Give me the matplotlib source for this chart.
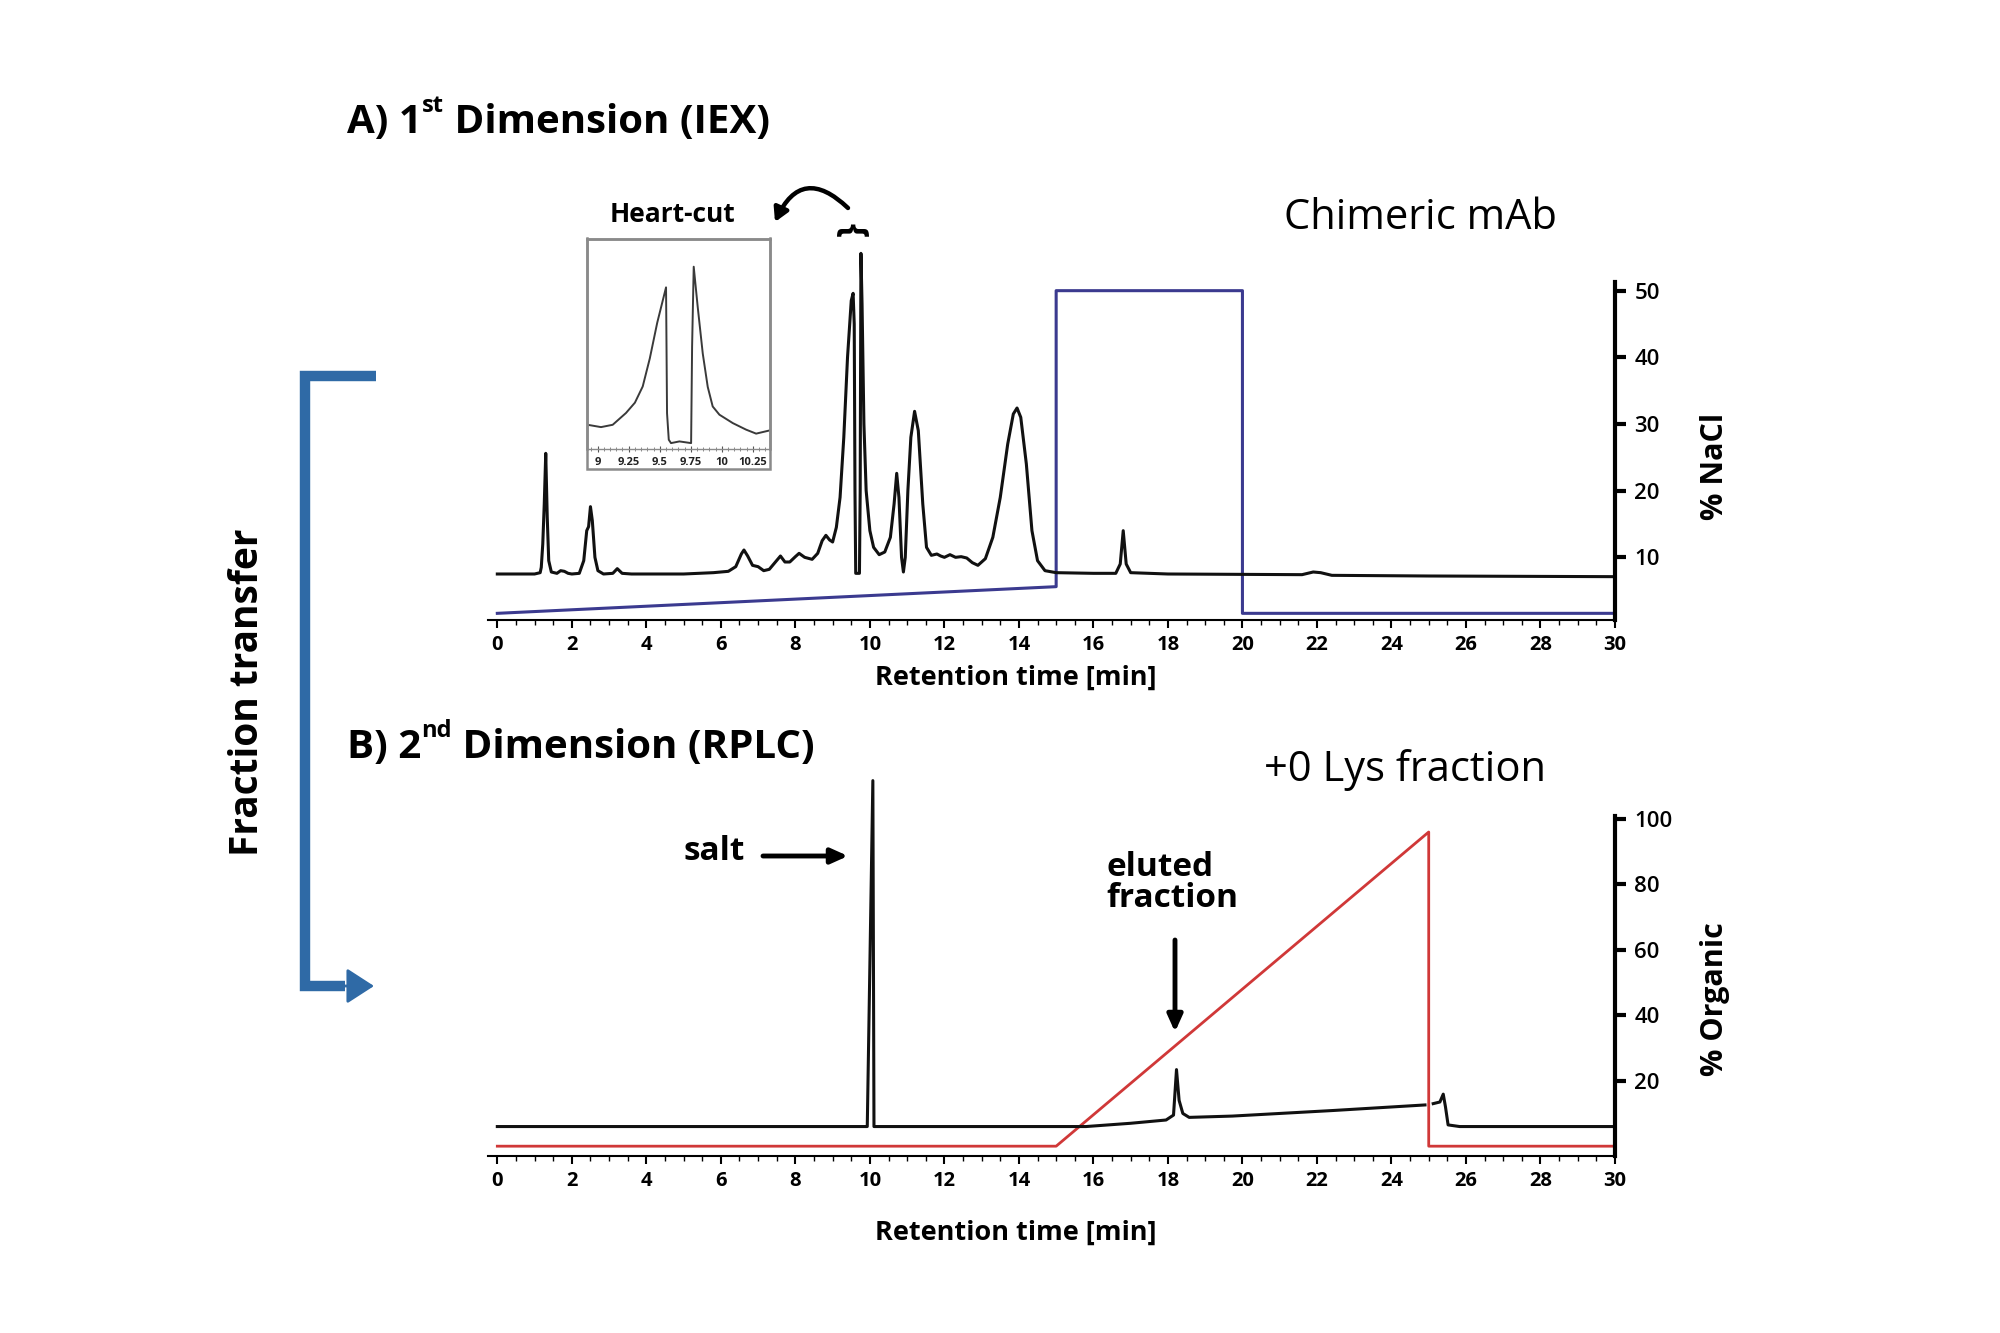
import matplotlib.pyplot as plt
from matplotlib.patches import Rectangle
from matplotlib.ticker import MultipleLocator

# ── Data ─────────────────────────────────────────────────────
# A) 1st dimension (IEX) chromatogram, retention time [min] vs. signal (in %NaCl axis units)
top_time = [0.0, 1.0, 1.15, 1.18, 1.22, 1.26, 1.30, 1.34, 1.38, 1.45, 1.6, 1.7, 1.8, 1.9,
            2.0, 2.2, 2.32, 2.40, 2.45, 2.50, 2.55, 2.62, 2.7, 2.85, 3.1, 3.22, 3.35, 3.6,
            5.0, 5.8, 6.2, 6.4, 6.55, 6.62, 6.72, 6.85, 7.0, 7.15, 7.3, 7.45, 7.6, 7.72,
            7.85, 8.0, 8.1, 8.25, 8.45, 8.6, 8.72, 8.82, 8.92, 9.0, 9.1, 9.2, 9.3, 9.4,
            9.5, 9.55, 9.58, 9.6, 9.62, 9.72, 9.74, 9.76, 9.79, 9.84, 9.9, 10.0, 10.1,
            10.25, 10.4, 10.55, 10.65, 10.72, 10.78, 10.85, 10.9, 10.95, 11.02, 11.1,
            11.2, 11.3, 11.42, 11.52, 11.65, 11.8, 11.9, 12.0, 12.15, 12.3, 12.45, 12.6,
            12.75, 12.9, 13.1, 13.3, 13.5, 13.7, 13.85, 13.95, 14.05, 14.2, 14.35, 14.5,
            14.7, 15.0, 16.0, 16.6, 16.72, 16.8, 16.88, 17.0, 18.0, 21.6, 21.9, 22.1,
            22.4, 25.0, 30.0]
top_signal = [7.5, 7.5, 7.7, 8.5, 12.0, 18.0, 25.6, 16.0, 9.5, 7.8, 7.6, 8.0, 7.9, 7.6,
              7.5, 7.6, 9.5, 14.0, 14.6, 17.6, 15.5, 10.0, 8.0, 7.5, 7.6, 8.3, 7.6, 7.5,
              7.5, 7.7, 7.9, 8.6, 10.5, 11.1, 10.2, 8.8, 8.6, 8.0, 8.2, 9.2, 10.2, 9.3,
              9.3, 10.1, 10.6, 10.0, 9.7, 10.6, 12.5, 13.3, 12.6, 12.3, 14.5, 19.0, 28.0, 40.0,
              48.5, 49.6, 45.0, 20.0, 7.6, 7.6, 20.0, 55.6, 48.0, 30.0, 20.0, 14.0, 11.5,
              10.4, 10.8, 13.0, 18.0, 22.6, 19.0, 10.0, 7.8, 10.0, 20.0, 28.0,
              31.9, 29.0, 18.0, 11.5, 10.3, 10.5, 10.2, 10.0, 10.4, 10.0, 10.1, 9.9,
              9.2, 8.8, 9.8, 13.0, 19.0, 27.0, 31.5, 32.4, 31.0, 24.0, 14.0, 9.5,
              8.0, 7.7, 7.6, 7.6, 9.0, 14.0, 9.0, 7.7, 7.5, 7.4, 7.8, 7.7,
              7.3, 7.2, 7.1]
# salt step gradient (%NaCl)
nacl_time = [0, 15, 15, 20, 20, 30]
nacl_pct = [1.6, 5.6, 50, 50, 1.6, 1.6]
nacl_ticks = [10, 20, 30, 40, 50]

# heart-cut inset (9-10.4 min)
inset_time = [8.919, 9.027, 9.121, 9.228, 9.30, 9.363, 9.42, 9.48, 9.551, 9.559, 9.573,
              9.591, 9.659, 9.753, 9.761, 9.774, 9.806, 9.847, 9.887, 9.927, 9.981,
              10.089, 10.196, 10.277, 10.384]
inset_signal = [11.5, 10.4, 11.5, 17.1, 22.0, 29.7, 43.0, 60.0, 76.8, 17.0, 4.4,
                2.8, 3.6, 2.8, 48.7, 86.6, 67.6, 45.3, 29.5, 20.2, 16.3,
                12.3, 9.2, 7.3, 8.8]
inset_ticks = [9, 9.25, 9.5, 9.75, 10, 10.25]
inset_labels = ['9', '9.25', '9.5', '9.75', '10', '10.25']

# B) 2nd dimension (RPLC) chromatogram
bot_time = [0.0, 9.93, 10.08, 10.11, 15.8, 17.0, 17.95, 18.15, 18.23, 18.3, 18.4, 18.57,
            19.73, 22.43, 24.9, 25.0, 25.12, 25.3, 25.39, 25.45, 25.52, 25.83, 30.0]
bot_signal = [6.0, 6.0, 111.7, 6.0, 6.0, 7.0, 8.0, 9.5, 23.4, 14.0, 10.0, 8.8,
              9.2, 10.9, 12.6, None, 13.0, 13.5, 15.9, 12.0, 6.5, 6.0, 6.0]
# organic gradient (%)
org_time = [0, 15, 25, 25, 30]
org_pct = [0, 0, 96, 0, 0]
org_ticks = [20, 40, 60, 80, 100]

x_ticks = list(range(0, 31, 2))

plt.rcParams['font.family'] = ['Open Sans', 'DejaVu Sans']
W, H = 2000, 1333


def fx(px):
    return px / W


def fy(py):
    return 1 - py / H


def style_axes(ax, yticks, spine_top):
    ax.set_xlim(-0.25, 30)
    ax.spines['left'].set_visible(False)
    ax.spines['top'].set_visible(False)
    ax.spines['bottom'].set_linewidth(1.5)
    ax.spines['right'].set_linewidth(3)
    ax.spines['right'].set_bounds(ax.get_ylim()[0], spine_top)
    ax.yaxis.tick_right()
    ax.set_yticks(yticks)
    ax.set_xticks(x_ticks)
    ax.xaxis.set_minor_locator(MultipleLocator(0.5))
    ax.tick_params(axis='x', which='major', length=6, width=1.5, pad=5)
    ax.tick_params(axis='x', which='minor', length=3.5, width=1)
    ax.tick_params(axis='y', length=8, width=3, pad=6)
    for lbl in ax.get_xticklabels():
        lbl.set_fontweight('bold')
        lbl.set_fontsize(14.5)
    for lbl in ax.get_yticklabels():
        lbl.set_fontweight('semibold')
        lbl.set_fontsize(16)
    ax.patch.set_alpha(0)


fig = plt.figure(figsize=(20, 13.33), dpi=100)

# ── Panel A ──────────────────────────────────────────────────
ax1 = fig.add_axes([fx(488), fy(620), (1615 - 488) / W, (620 - 244) / H])
ax1.set_ylim(0.6, 57)
ax1.plot(nacl_time, nacl_pct, color='#3b3a8f', lw=2.2)
ax1.plot(top_time, top_signal, color='#111111', lw=2.2)
style_axes(ax1, nacl_ticks, 51.3)

# ── Panel B ──────────────────────────────────────────────────
ax2 = fig.add_axes([fx(488), fy(1156), (1615 - 488) / W, (1156 - 760) / H])
ax2.set_ylim(-3, 118)
ax2.plot(org_time, org_pct, color='#d03838', lw=2.0)
ax2.plot(bot_time, [float('nan') if v is None else v for v in bot_signal],
         color='#111111', lw=2.2)
style_axes(ax2, org_ticks, 101)

# axis titles
fig.text(fx(1016), fy(678), 'Retention time [min]', ha='center', va='center',
         fontsize=19.5, fontweight='bold')
fig.text(fx(1016), fy(1233), 'Retention time [min]', ha='center', va='center',
         fontsize=19.5, fontweight='bold')
fig.text(fx(1715), fy(466), '% NaCl', rotation=90, ha='center', va='center',
         fontsize=22, fontweight='bold')
fig.text(fx(1715), fy(999), '% Organic', rotation=90, ha='center', va='center',
         fontsize=22, fontweight='bold')

# ── Heart-cut inset ──────────────────────────────────────────
ins = fig.add_axes([fx(587), fy(449), (770.4 - 587) / W, (449 - 238.5) / H])
ins.plot(inset_time, inset_signal, color='#3a3a3a', lw=1.4)
ins.set_xlim(8.914, 10.392)
ins.set_ylim(0, 100)
ins.set_yticks([])
ins.set_xticks(inset_ticks)
ins.set_xticklabels(inset_labels)
ins.xaxis.set_minor_locator(MultipleLocator(0.05))
ins.tick_params(axis='x', which='major', direction='inout', length=4, width=0.8,
                colors='#555555', labelcolor='#222222', labelsize=8, pad=4)
ins.tick_params(axis='x', which='minor', direction='inout', length=2.5, width=0.6, colors='#777777')
for lbl in ins.get_xticklabels():
    lbl.set_fontweight('bold')
for s in ['left', 'right', 'top']:
    ins.spines[s].set_color('#8a8a8a')
    ins.spines[s].set_linewidth(1.8)
ins.spines['bottom'].set_color('#8a8a8a')
ins.spines['bottom'].set_linewidth(1.0)
fig.patches.append(Rectangle((fx(587), fy(469.4)), (770.4 - 587) / W, (469.4 - 238.5) / H,
                             transform=fig.transFigure, fill=False, ec='#8a8a8a', lw=1.8))

fig.text(fx(672), fy(214), 'Heart-cut', ha='center', va='center', fontsize=19, fontweight='bold')
fig.text(fx(851), fy(230), '{', rotation=-90, ha='center', va='center', fontsize=26,
         fontweight='bold')
fig.add_artist(plt.Annotation('', xy=(775, H - 222), xycoords='figure pixels',
                              xytext=(848, H - 208), textcoords='figure pixels',
                              arrowprops=dict(arrowstyle='-|>,head_length=0.8,head_width=0.45',
                                              connectionstyle='arc3,rad=0.7',
                                              lw=3.2, color='black', shrinkA=0, shrinkB=0)))


# ── Panel titles and labels ──────────────────────────────────
def sup_title(x, base_y, pre, sup, post):
    t1 = fig.text(fx(x), fy(base_y), pre, fontsize=29, fontweight='bold', va='baseline')
    t2 = plt.Annotation(sup, xy=(1, fy(base_y - 21)), xycoords=(t1, 'figure fraction'),
                        fontsize=17, fontweight='bold', va='baseline')
    fig.add_artist(t2)
    t3 = plt.Annotation(post, xy=(1, fy(base_y)), xycoords=(t2, 'figure fraction'),
                        fontsize=29, fontweight='bold', va='baseline')
    fig.add_artist(t3)


sup_title(347, 133, 'A) 1', 'st', ' Dimension (IEX)')
sup_title(347, 758, 'B) 2', 'nd', ' Dimension (RPLC)')

fig.text(fx(1420), fy(218), 'Chimeric mAb', ha='center', va='center', fontsize=30)
fig.text(fx(1405), fy(770), '+0 Lys fraction', ha='center', va='center', fontsize=30)

fig.text(fx(714), fy(852), 'salt', ha='center', va='center', fontsize=24, fontweight='bold')
fig.add_artist(plt.Annotation('', xy=(848, H - 856), xycoords='figure pixels',
                              xytext=(763, H - 856), textcoords='figure pixels',
                              arrowprops=dict(arrowstyle='-|>,head_length=1.0,head_width=0.45',
                                              lw=3.5, color='black', shrinkA=0, shrinkB=0)))
fig.text(fx(1106), fy(883), 'eluted\nfraction', ha='left', va='center', fontsize=24,
         fontweight='bold', linespacing=0.95)
fig.add_artist(plt.Annotation('', xy=(1175, H - 1032), xycoords='figure pixels',
                              xytext=(1175, H - 940), textcoords='figure pixels',
                              arrowprops=dict(arrowstyle='-|>,head_length=1.0,head_width=0.45',
                                              lw=3.5, color='black', shrinkA=0, shrinkB=0)))

# ── Fraction transfer bracket ────────────────────────────────
blue = '#2f6aa6'
fig.add_artist(plt.Line2D([fx(376), fx(305), fx(305), fx(345)],
                          [fy(376), fy(376), fy(986), fy(986)],
                          transform=fig.transFigure, color=blue, lw=7.5,
                          solid_joinstyle='miter', solid_capstyle='butt'))
fig.add_artist(plt.Annotation('', xy=(374, H - 986), xycoords='figure pixels',
                              xytext=(340, H - 986), textcoords='figure pixels',
                              arrowprops=dict(arrowstyle='-|>,head_length=1.7,head_width=1.1',
                                              lw=2, color=blue, shrinkA=0, shrinkB=0)))
fig.text(fx(248), fy(692), 'Fraction transfer', rotation=90, ha='center', va='center',
         fontsize=28, fontweight='bold')

plt.savefig('out.png', dpi=100)
